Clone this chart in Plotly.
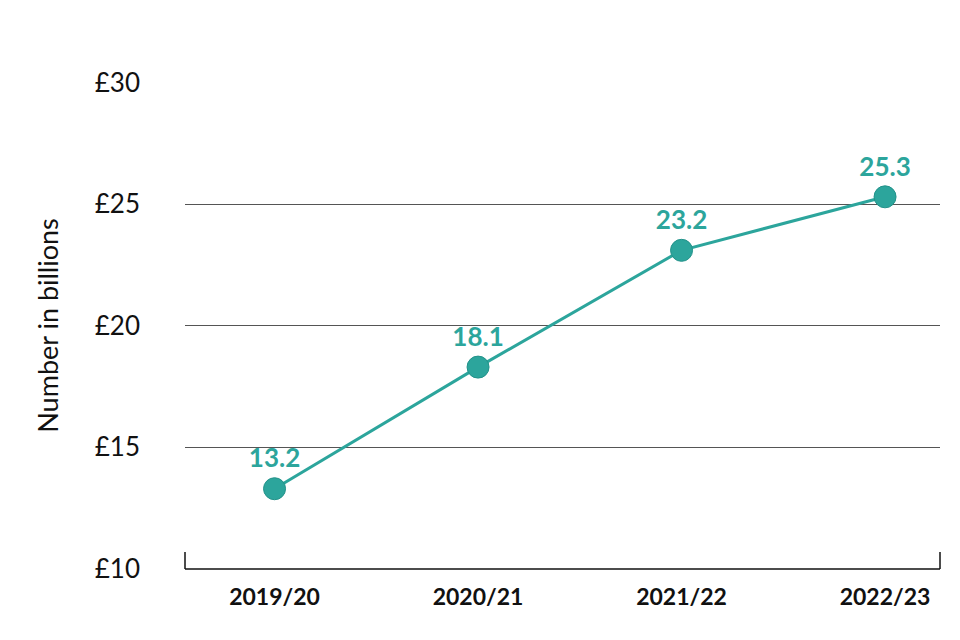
import plotly.graph_objects as go

years = ["2019/20", "2020/21", "2021/22", "2022/23"]
values = [13.3, 18.3, 23.1, 25.3]
labels = ["13.2", "18.1", "23.2", "25.3"]
y_ticks = [10, 15, 20, 25, 30]

teal = "#2ca59c"

fig = go.Figure(
    go.Scatter(
        x=years,
        y=values,
        mode="lines+markers+text",
        line=dict(color=teal, width=3),
        marker=dict(size=22, color=teal, line=dict(color="#23928a", width=1)),
        text=labels,
        textposition="top center",
        textfont=dict(size=26, color=teal, family="Lato"),
        cliponaxis=False,
    )
)
fig.update_traces(texttemplate="<b>%{text}</b>")

fig.update_layout(
    width=960,
    height=640,
    margin=dict(l=177, r=28, t=74, b=79),
    plot_bgcolor="white",
    paper_bgcolor="white",
    showlegend=False,
    font=dict(family="Lato", color="#111111"),
)
fig.update_xaxes(
    type="category",
    range=[-0.44, 3.27],
    showgrid=False,
    showline=False,
    ticks="",
    tickfont=dict(size=23),
    ticklabelstandoff=12,
    tickvals=years,
    ticktext=[f"<b>{y}</b>" for y in years],
)
fig.update_yaxes(
    range=[10, 30.02],
    tickvals=y_ticks,
    ticktext=[f"£{v}" for v in y_ticks],
    tickfont=dict(size=26),
    showgrid=True,
    gridcolor="#555555",
    gridwidth=1,
    zeroline=False,
    ticks="",
    ticklabelstandoff=44,
    title=dict(text="Number in billions", font=dict(size=27), standoff=28),
)
# baseline with small upward end ticks
fig.add_shape(type="line", xref="paper", yref="paper", x0=0, x1=1, y0=0, y1=0,
              line=dict(color="#111111", width=1.5))
for xp in (0, 1):
    fig.add_shape(type="line", xref="paper", yref="paper", x0=xp, x1=xp, y0=0, y1=0.035,
                  line=dict(color="#111111", width=1.5))

fig.write_html("out.html")
